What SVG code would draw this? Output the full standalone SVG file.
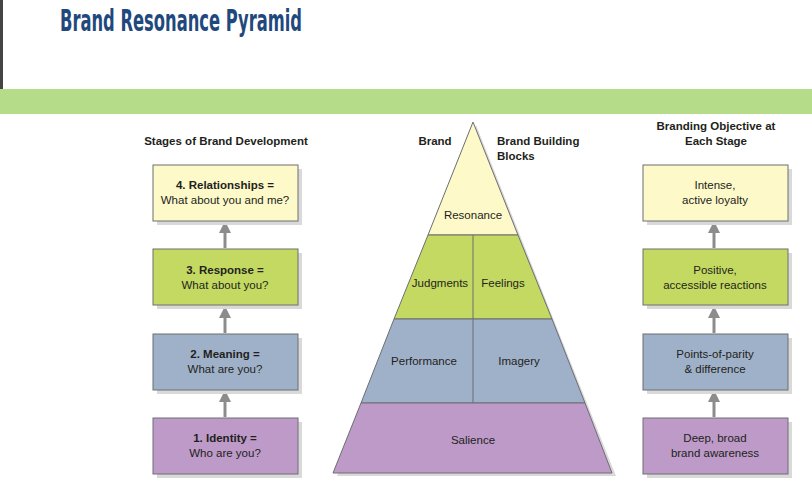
<svg xmlns="http://www.w3.org/2000/svg" width="812" height="479" viewBox="0 0 812 479">
<style>
text{font-family:"Liberation Sans",Arial,sans-serif;fill:#231f20;font-size:11.5px;text-anchor:middle}
.b{font-weight:bold}
.sh{fill:#d9d9d9}
.bx{stroke:#6d6e71;stroke-width:1}
.y{fill:#fdf9c9}.g{fill:#c4d961}.bl{fill:#9fb1c9}.p{fill:#bd9ac8}
.c{stroke:#8c8c8c;stroke-width:3;fill:none}
</style>
<defs><marker id="ah" markerWidth="4" markerHeight="4" refX="2" refY="2" orient="auto"><path d="M0,0L4,2L0,4z" fill="#8c8c8c"/></marker></defs>
<rect width="812" height="479" fill="#fff"/>
<rect x="0" y="0" width="3" height="89" fill="#444"/>
<text x="60" y="31" style="font-family:'DejaVu Sans Condensed','Open Sans',sans-serif;font-size:30px;font-weight:bold;fill:#1f497d;text-anchor:start" textLength="242" lengthAdjust="spacingAndGlyphs">Brand Resonance Pyramid</text>
<rect x="0" y="89" width="812" height="25" fill="#b5dc88"/>
<text class="b" x="226" y="145">Stages of Brand Development</text>
<text class="b" x="435" y="145">Brand</text>
<text class="b" x="497" y="145" style="text-anchor:start">Brand Building</text>
<text class="b" x="497" y="160" style="text-anchor:start">Blocks</text>
<text class="b" x="716" y="130">Branding Objective at</text>
<text class="b" x="716" y="145">Each Stage</text>
<g id="connectors">
<path class="c" d="M225,333V312" marker-end="url(#ah)"/>
<path class="c" d="M225,417V396" marker-end="url(#ah)"/>
<path class="c" d="M225,248V227" marker-end="url(#ah)"/>
<path class="c" d="M714,333V312" marker-end="url(#ah)"/>
<path class="c" d="M714,417V396" marker-end="url(#ah)"/>
<path class="c" d="M714,248V227" marker-end="url(#ah)"/>
</g>
<g id="stage4"><rect class="sh" x="157" y="169" width="145" height="56"/><rect class="bx y" x="153" y="165" width="145" height="56"/><text class="b" x="225" y="189">4. Relationships =</text><text x="225" y="204">What about you and me?</text></g>
<g id="stage3"><rect class="sh" x="157" y="253" width="145" height="56"/><rect class="bx g" x="153" y="249" width="145" height="56"/><text class="b" x="225" y="274">3. Response =</text><text x="225" y="289">What about you?</text></g>
<g id="stage2"><rect class="sh" x="157" y="338" width="145" height="56"/><rect class="bx bl" x="153" y="334" width="145" height="56"/><text class="b" x="225" y="358">2. Meaning =</text><text x="225" y="373">What are you?</text></g>
<g id="stage1"><rect class="sh" x="157" y="422" width="145" height="56"/><rect class="bx p" x="153" y="418" width="145" height="56"/><text class="b" x="225" y="442">1. Identity =</text><text x="225" y="457">Who are you?</text></g>
<g id="obj4"><rect class="sh" x="647" y="169" width="145" height="56"/><rect class="bx y" x="643" y="165" width="145" height="56"/><text x="715" y="189">Intense,</text><text x="715" y="204">active loyalty</text></g>
<g id="obj3"><rect class="sh" x="647" y="253" width="145" height="56"/><rect class="bx g" x="643" y="249" width="145" height="56"/><text x="715" y="274">Positive,</text><text x="715" y="289">accessible reactions</text></g>
<g id="obj2"><rect class="sh" x="647" y="338" width="145" height="56"/><rect class="bx bl" x="643" y="334" width="145" height="56"/><text x="715" y="358">Points-of-parity</text><text x="715" y="373">&amp; difference</text></g>
<g id="obj1"><rect class="sh" x="647" y="422" width="145" height="56"/><rect class="bx p" x="643" y="418" width="145" height="56"/><text x="715" y="442">Deep, broad</text><text x="715" y="457">brand awareness</text></g>
<g id="pyramid" stroke="#6d6e71" stroke-width="1">
<path d="M476,125L616,476H337z" fill="#d9d9d9" stroke="none"/>
<path class="y" d="M473,122L518,235H428z"/>
<path class="g" d="M428,235H518L552,319H394z"/>
<path class="bl" d="M394,319H552L585,403H361z"/>
<path class="p" d="M361,403H585L612,473H333z"/>
<path d="M473,235V403"/>
</g>
<text x="473" y="219">Resonance</text>
<text x="440" y="287">Judgments</text>
<text x="503" y="287">Feelings</text>
<text x="424" y="365">Performance</text>
<text x="519" y="365">Imagery</text>
<text x="473" y="444">Salience</text>
</svg>
